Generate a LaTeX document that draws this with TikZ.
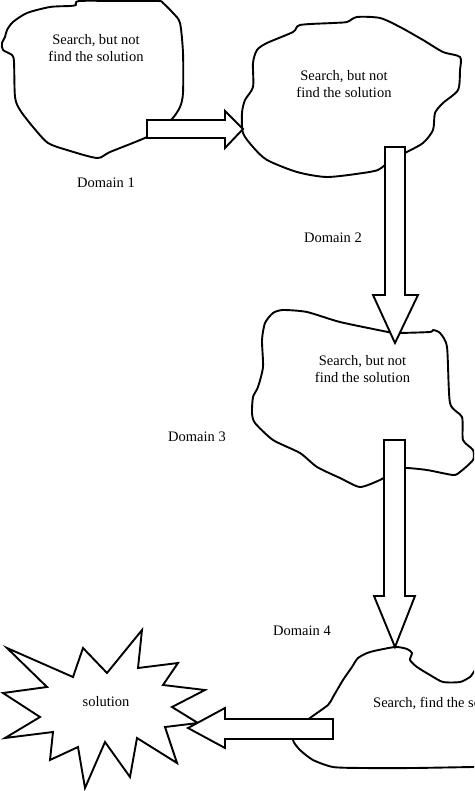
\documentclass[tikz,border=0pt]{standalone}
\usepackage{fontspec}
\setmainfont{Liberation Serif}
\tikzset{
  blob/.style={draw=black, line width=1.9pt, line join=round},
  blockarrow/.style={draw=black, fill=white, line width=1.9pt, line join=miter},
  starshape/.style={draw=black, fill=white, line width=1.9pt, line join=miter},
  lbl/.style={inner sep=0pt, align=center, font=\fontsize{14.5}{17}\selectfont}
}
\begin{document}
\begin{tikzpicture}[x=1pt, y=-1pt]
\useasboundingbox (0,0) rectangle (474,791);
\clip (0,0) rectangle (474,791);
\fill[white] (0,0) rectangle (474,791);

% Domain 1 blob
\draw[blob] plot[smooth cycle, tension=0.45] coordinates {
 (79,1) (76,5) (70,6) (50,7) (27,13) (13,22) (7,30) (5,37) (2,43) (3,50) (12,55) (14,62)
 (15,97) (20,110) (33,127) (48,143) (67,150) (97,158) (110,152) (147,137) (160,127)
 (172,119) (180,107) (183,93) (183,53) (180,23) (173,13) (163,3) (158,1) (120,1)};

% Domain 2 blob
\draw[blob] plot[smooth cycle, tension=0.45] coordinates {
 (357,17) (380,18) (400,27) (423,40) (443,52) (460,57) (460,70) (458,90) (443,103) (435,113)
 (433,130) (423,143) (405,153) (395,159) (385,165) (378,170) (363,173) (327,177) (297,172)
 (267,160) (253,147) (243,133) (242,113) (245,100) (253,87) (253,63) (257,50) (267,43)
 (293,32) (300,25) (333,23) (347,22)};

% Domain 3 blob
\draw[blob] plot[smooth cycle, tension=0.4] coordinates {
 (283,310) (307,312) (340,322) (388,332) (394,333) (400,333) (430,332) (433,330) (440,333)
 (447,347) (450,403) (462,417) (463,440) (473,450) (473,460) (460,472) (453,475) (427,470)
 (405,468) (395,472) (385,477) (380,480) (360,487) (340,478) (317,467) (300,453) (273,440)
 (255,423) (252,413) (253,397) (258,387) (263,367) (262,340) (265,323) (273,313)};

% Domain 4 blob
\draw[blob] plot[smooth cycle, tension=0.4] coordinates {
 (310,718) (328,705) (333,697) (343,680) (352,667) (358,658) (370,652) (395,647) (407,649)
 (412,653) (410,660) (417,667) (430,675) (443,682) (460,682) (470,677) (482,668)
 (482,767) (473,767) (413,768) (363,768) (333,767) (313,760) (300,750) (293,740) (298,728)};

% Solution star
\draw[starshape] (7,648) -- (73,677) -- (83,648) -- (107,673) -- (142,630) -- (138,668)
 -- (178,663) -- (163,685) -- (205,690) -- (172,707) -- (198,723) -- (165,727) -- (177,763)
 -- (137,738) -- (130,777) -- (105,742) -- (85,788) -- (78,747) -- (50,760) -- (53,732)
 -- (5,738) -- (40,717) -- (3,693) -- (47,687) -- cycle;

% Block arrows
\draw[blockarrow] (147,120) -- (225,120) -- (225,111) -- (243,129) -- (225,148) -- (225,138)
 -- (147,138) -- cycle;
\draw[blockarrow] (385,147) -- (405,147) -- (405,295) -- (418,295) -- (395,343) -- (373,295)
 -- (385,295) -- cycle;
\draw[blockarrow] (384,440) -- (405,440) -- (405,596) -- (415,596) -- (395,647) -- (374,596)
 -- (384,596) -- cycle;
\draw[blockarrow] (333,719) -- (333,739) -- (225,739) -- (225,748) -- (188,728) -- (225,708)
 -- (225,719) -- cycle;

% Texts
\node[lbl] (t1) at (96,48.5) {Search, but not\\find the solution};
\node[lbl] (t2) at (344,84.5) {Search, but not\\find the solution};
\node[lbl] (t3) at (362.5,369.5) {Search, but not\\find the solution};
\node[lbl, anchor=base west] (t4) at (373,707) {Search, find the solution};
\node[lbl, anchor=base] (t5) at (106,706) {solution};
\node[lbl, anchor=base] (d1) at (106,188) {Domain 1};
\node[lbl, anchor=base] (d2) at (333,243) {Domain 2};
\node[lbl, anchor=base] (d3) at (197,441) {Domain 3};
\node[lbl, anchor=base] (d4) at (302,635) {Domain 4};
\end{tikzpicture}
\end{document}
